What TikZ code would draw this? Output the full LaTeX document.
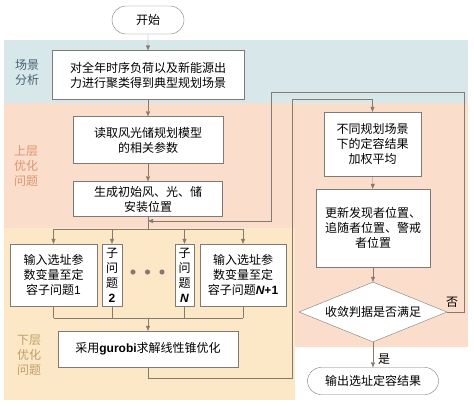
\documentclass[tikz,border=0pt]{standalone}
\usepackage{fontspec}
\setmainfont{Noto Sans CJK SC}
\newfontfamily\latinsf{Liberation Sans}
\usetikzlibrary{shapes.geometric,shapes.misc,arrows.meta}
\definecolor{bandblue}{HTML}{D7E7EA}
\definecolor{bandorange}{HTML}{FBDDCB}
\definecolor{bandyellow}{HTML}{FCE8C6}
\definecolor{boxgray}{HTML}{7F7A76}
\definecolor{linegray}{HTML}{857A70}
\definecolor{labelblue}{HTML}{4A6472}
\definecolor{labelorange}{HTML}{DE9470}
\definecolor{labeltan}{HTML}{C09E68}
\tikzset{
  box/.style={draw=boxgray, fill=white, align=center, inner sep=0pt,
    font=\fontsize{12}{15}\selectfont},
  term/.style={box, rounded rectangle},
  judgebox/.style={box, diamond, aspect=2.5},
  flow/.style={draw=linegray, -{Triangle[length=5pt,width=4pt]}},
  link/.style={draw=linegray},
  layer/.style={align=center, font=\fontsize{12}{15}\selectfont},
}
\begin{document}
\begin{tikzpicture}[x=1pt,y=-1pt]
  \useasboundingbox (0,0) rectangle (474,407);
  % bands
  \fill[bandblue] (4,40) rectangle (468,103);
  \fill[bandorange] (4,103) rectangle (468,228);
  \fill[bandorange] (295,228) rectangle (468,347);
  \fill[bandyellow] (4,228) rectangle (295,400);
  \node[layer, text=labelblue] (lscene) at (27,73) {场景\\分析};
  \node[layer, text=labelorange] (lupper) at (26,166) {上层\\优化\\问题};
  \node[layer, text=labeltan] (llower) at (29,355) {下层\\优化\\问题};

  % left column
  \node[term, minimum width=72pt, minimum height=28pt] (start) at (148,20) {开始};
  \node[box, minimum width=192pt, minimum height=49pt] (scene) at (148,75)
    {对全年时序负荷以及新能源出\\力进行聚类得到典型规划场景};
  \node[box, minimum width=150pt, minimum height=47pt] (param) at (148,140)
    {读取风光储规划模型\\的相关参数};
  \node[box, minimum width=149pt, minimum height=35pt] (init) at (148,199)
    {生成初始风、光、储\\安装位置};
  \node[box, minimum width=87pt, minimum height=62pt] (sub1) at (53.5,275)
    {输入选址参\\数变量至定\\容子问题{\latinsf 1}};
  \node[box, minimum width=20pt, minimum height=62pt] (sub2) at (112,275)
    {子\\问\\题\\{\latinsf\bfseries 2}};
  \node[box, minimum width=19pt, minimum height=62pt] (subN) at (184.5,275)
    {子\\问\\题\\{\latinsf\bfseries\itshape N}};
  \node[box, minimum width=86pt, minimum height=62pt] (subN1) at (243,275)
    {输入选址参\\数变量至定\\容子问题{\latinsf\bfseries{\itshape N}+1}};
  \foreach \x in {133,147.5,162}
    \fill[linegray] (\x,272) circle (2.6pt);
  \node[box, minimum width=180pt, minimum height=36pt] (gurobi) at (148,349)
    {采用{\latinsf\bfseries gurobi}求解线性锥优化};

  % right column
  \node[box, minimum width=97pt, minimum height=64pt] (weight) at (372.5,144)
    {不同规划场景\\下的定容结果\\加权平均};
  \node[box, minimum width=114pt, minimum height=78pt] (update) at (373,228)
    {更新发现者位置、\\追随者位置、警戒\\者位置};
  \node[judgebox, minimum width=148pt, minimum height=60pt] (judge) at (373,312)
    {收敛判据是否满足};
  \node[term, minimum width=131pt, minimum height=27pt] (result) at (373,381)
    {输出选址定容结果};
  \node[font=\fontsize{12}{15}\selectfont] (no) at (452,302) {否};
  \node[font=\fontsize{12}{15}\selectfont] (yes) at (384,359) {是};

  % connectors
  \coordinate (topbus) at (148,229);
  \coordinate (botbus) at (148,318);
  \coordinate (back) at (148,221);
  \coordinate (outerR) at (464,92);
  \coordinate (outerL) at (271,92);
  \coordinate (innerB) at (292,378);
  \coordinate (innerT) at (292,99);
  \draw[flow] (start) -- (scene);
  \draw[flow] (scene) -- (param);
  \draw[flow] (param) -- (init);
  \draw[link] (init) -- (topbus);
  \draw[link] (sub1.north |- topbus) -- (subN1.north |- topbus);
  \draw[link] (sub1.south |- botbus) -- (subN1.south |- botbus);
  \foreach \s in {sub1,sub2,subN,subN1} {
    \draw[flow] (\s.north |- topbus) -- (\s.north);
    \draw[link] (\s.south) -- (\s.south |- botbus);
  }
  \draw[flow] (botbus) -- (gurobi);
  \draw[flow] (gurobi.south) |- (innerB) -- (innerT) -| (weight.north);
  \draw[flow] (weight) -- (update);
  \draw[flow] (update) -- (judge);
  \draw[flow] (judge.east) -| (outerR) -- (outerL) |- (back);
  \draw[flow] (judge.south) -- (result.north);
\end{tikzpicture}
\end{document}
